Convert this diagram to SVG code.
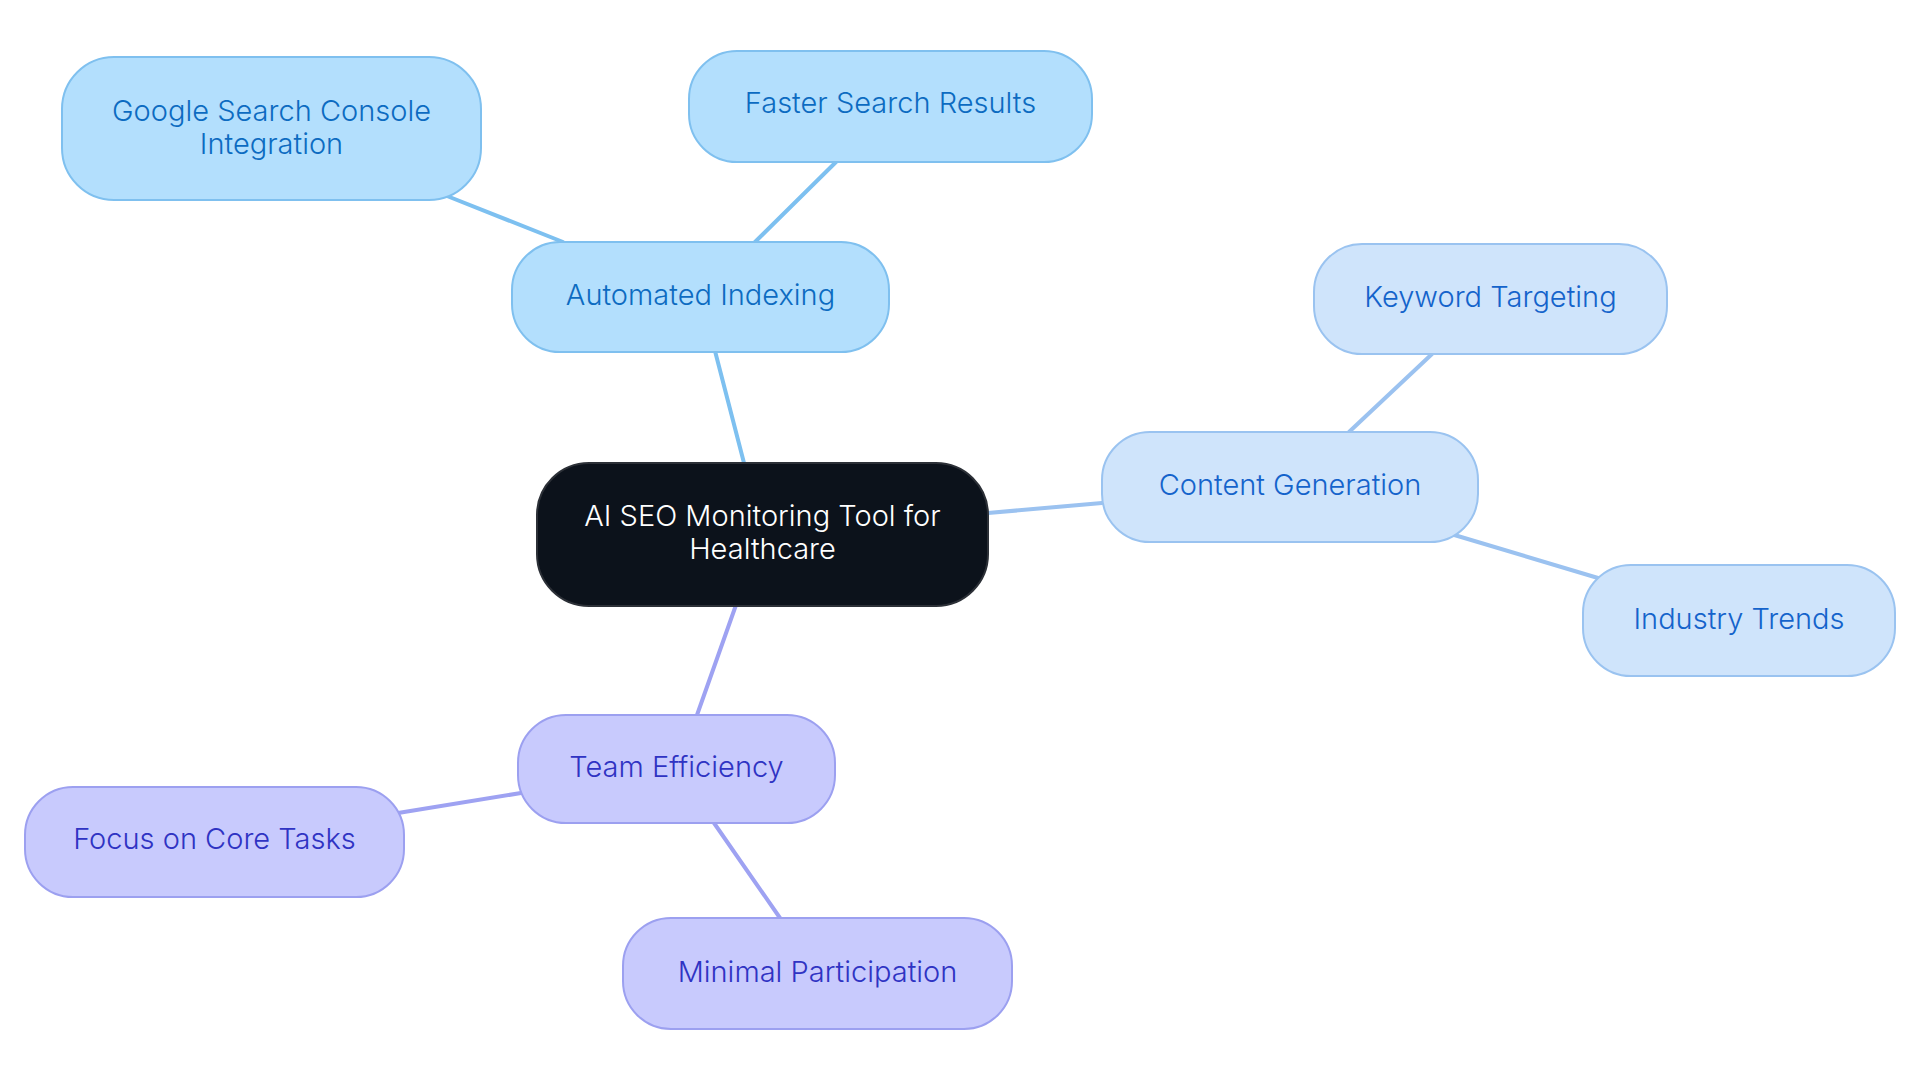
<svg xmlns="http://www.w3.org/2000/svg" width="1920" height="1083" viewBox="0 0 1920 1083">
<style>
text{font-family:Inter,"Noto Sans","DejaVu Sans",sans-serif;font-size:29px;font-weight:300;text-anchor:middle}
.b1 rect{fill:#b3dffd;stroke:#7fc0ef;stroke-width:2}
.b1 text{fill:#0c6bc1}
.b2 rect{fill:#cfe4fb;stroke:#9ac3f0;stroke-width:2}
.b2 text{fill:#1463cb}
.p rect{fill:#c8cafd;stroke:#9ca0f0;stroke-width:2}
.p text{fill:#2f33c3}
.root rect{fill:#0c121b;stroke:#2c3037;stroke-width:2}
.root text{fill:#ffffff}
.c{fill:none;stroke-width:4;stroke-linecap:round}
.c1{stroke:#7dc0f0}
.c2{stroke:#9bc2f0}
.c3{stroke:#9ea2f2}
</style>
<rect width="1920" height="1083" fill="#ffffff"/>
<g id="connectors">
<line class="c c1" x1="744" y1="463" x2="715" y2="351"/>
<line class="c c1" x1="563" y1="242" x2="447" y2="196"/>
<line class="c c1" x1="755" y1="242" x2="836" y2="162"/>
<line class="c c2" x1="988" y1="513" x2="1102" y2="503"/>
<line class="c c2" x1="1349" y1="432" x2="1432" y2="354"/>
<line class="c c2" x1="1451" y1="534" x2="1598" y2="578"/>
<line class="c c3" x1="736" y1="605" x2="697" y2="715"/>
<line class="c c3" x1="521" y1="793" x2="398" y2="813"/>
<line class="c c3" x1="714" y1="823" x2="780" y2="918"/>
</g>
<g id="root" class="root">
<rect x="537" y="463" width="451" height="143" rx="52"/>
<text x="762.5" y="526">AI SEO Monitoring Tool for</text>
<text x="762.5" y="559">Healthcare</text>
</g>
<g id="automated-indexing" class="b1">
<rect x="512" y="242" width="377" height="110" rx="48"/>
<text x="700.5" y="305">Automated Indexing</text>
</g>
<g id="google-search-console" class="b1">
<rect x="62" y="57" width="419" height="143" rx="52"/>
<text x="271.5" y="121">Google Search Console</text>
<text x="271.5" y="154">Integration</text>
</g>
<g id="faster-search-results" class="b1">
<rect x="689" y="51" width="403" height="111" rx="48"/>
<text x="890.5" y="113">Faster Search Results</text>
</g>
<g id="content-generation" class="b2">
<rect x="1102" y="432" width="376" height="110" rx="48"/>
<text x="1290" y="495">Content Generation</text>
</g>
<g id="keyword-targeting" class="b2">
<rect x="1314" y="244" width="353" height="110" rx="48"/>
<text x="1490.5" y="307">Keyword Targeting</text>
</g>
<g id="industry-trends" class="b2">
<rect x="1583" y="565" width="312" height="111" rx="48"/>
<text x="1739" y="629">Industry Trends</text>
</g>
<g id="team-efficiency" class="p">
<rect x="518" y="715" width="317" height="108" rx="48"/>
<text x="676.5" y="777">Team Efficiency</text>
</g>
<g id="focus-core-tasks" class="p">
<rect x="25" y="787" width="379" height="110" rx="48"/>
<text x="214.5" y="849">Focus on Core Tasks</text>
</g>
<g id="minimal-participation" class="p">
<rect x="623" y="918" width="389" height="111" rx="48"/>
<text x="817.5" y="982">Minimal Participation</text>
</g>
</svg>
